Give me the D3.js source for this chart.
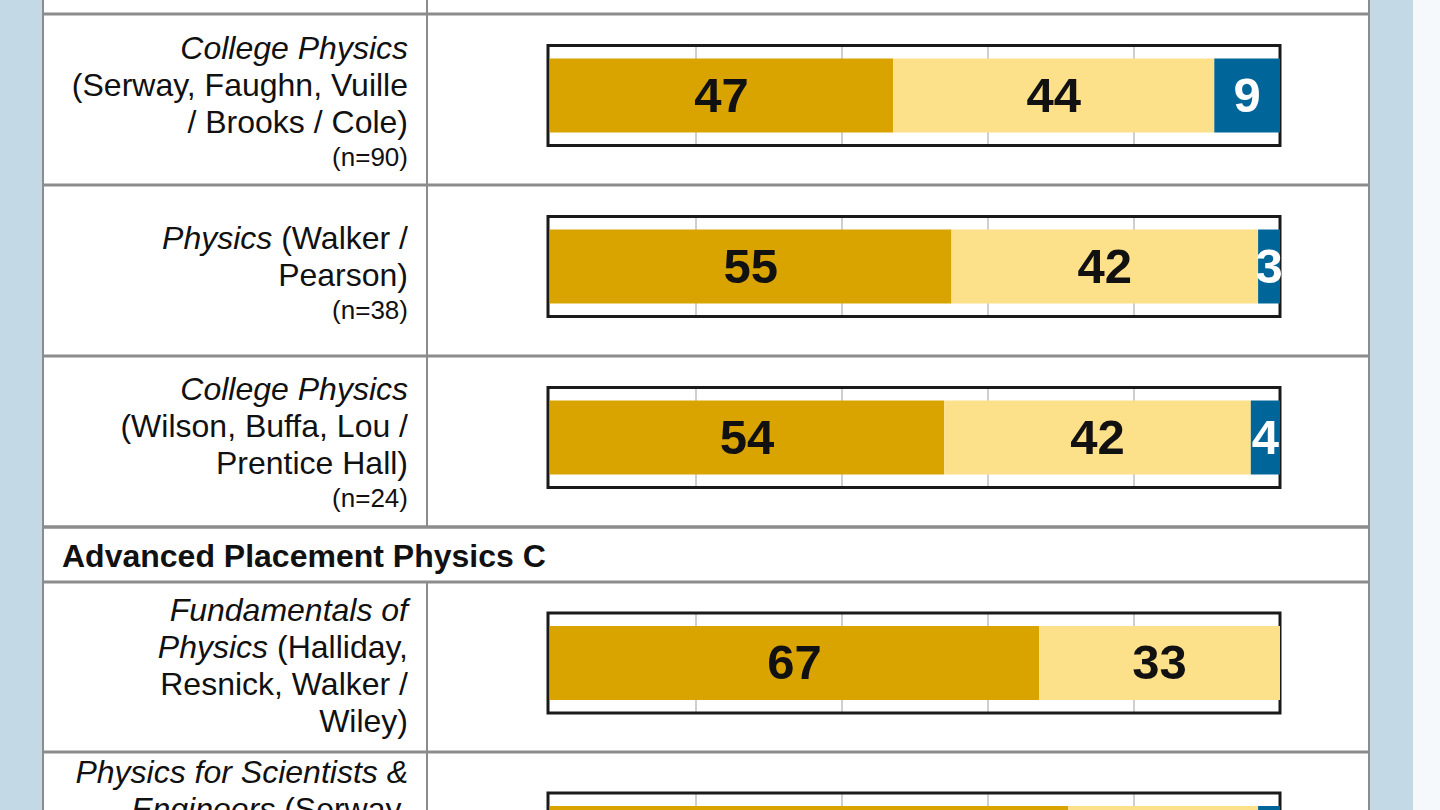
<!DOCTYPE html>
<html lang="en">
<head>
  <meta charset="UTF-8" />
  <title>Textbook ratings</title>
  <style>
    html, body { margin: 0; padding: 0; background: #ffffff; }
    svg { display: block; font-family: "Liberation Sans", Arial, sans-serif; }
  </style>
</head>
<body>
  <script src="https://d3js.org/d3.v7.min.js"></script>
  <script>
    // Data
    const books = ['College Physics (Serway)', 'Physics (Walker)', 'College Physics (Wilson)',
                   'Fundamentals of Physics', 'Physics for Scientists & Engineers'];
    // label lines: each line is a list of [text, italic]
    const bookLines = [
      [[['College Physics', true]], [['(Serway, Faughn, Vuille', false]], [['/ Brooks / Cole)', false]]],
      [[['Physics', true], [' (Walker /', false]], [['Pearson)', false]]],
      [[['College Physics', true]], [['(Wilson, Buffa, Lou /', false]], [['Prentice Hall)', false]]],
      [[['Fundamentals of', true]], [['Physics', true], [' (Halliday,', false]], [['Resnick, Walker /', false]], [['Wiley)', false]]],
      [[['Physics for Scientists &', true]], [['Engineers', true], [' (Serway,', false]]]
    ];
    const sampleSizes = ['(n=90)', '(n=38)', '(n=24)', '', ''];
    const sectionTitle = 'Advanced Placement Physics C';
    const sectionBefore = 3; // header row sits before this book

    const darkShare  = [47, 55, 54, 67, 71];
    const lightShare = [44, 42, 42, 33, 26];
    const blueShare  = [9, 3, 4, 0, 3];
    const ticks = [0, 20, 40, 60, 80, 100];

    // Layout
    const W = 1440, H = 810;
    const tableLeft = 43, tableRight = 1369, divider = 427;
    const rowHeights = [171, 171, 171, 170, 190];
    const headerHeight = 55;
    const labelFirst = [34, 53, 33, 28, 20]; // first line centre below row top
    const lineGap = 37, nGap = 35;
    const frameH = 100, barH = 74;

    const colors = { dark: '#d9a300', light: '#fde08a', blue: '#006699' };

    const svg = d3.select('body').append('svg')
      .attr('width', W)
      .attr('height', H);

    // side panels
    svg.append('rect').attr('x', 0).attr('y', 0).attr('width', tableLeft).attr('height', H).attr('fill', '#c3d9e6');
    svg.append('rect').attr('x', tableRight).attr('y', 0).attr('width', 44).attr('height', H).attr('fill', '#c3d9e6');
    svg.append('rect').attr('x', tableRight + 44).attr('y', 0).attr('width', W - tableRight - 44).attr('height', H).attr('fill', '#f6f9fb');

    // row positions
    const rows = [];
    let y = 14;
    let headerY = 0;
    rowHeights.forEach((h, i) => {
      if (i === sectionBefore) { headerY = y; y += headerHeight; }
      rows.push({ top: y, height: h, i: i });
      y += h;
    });

    const x = d3.scaleLinear().domain([0, 100]).range([550, 1280]);

    // stacked series
    const table = books.map((b, i) => ({ book: b, dark: darkShare[i], light: lightShare[i], blue: blueShare[i] }));
    const stack = d3.stack().keys(['dark', 'light', 'blue']);
    const series = stack(table);

    // table lines
    const lines = svg.append('g').attr('stroke', '#8c8c8c');
    const hLines = [14].concat(rows.map(r => r.top + r.height), [headerY, headerY + headerHeight]);
    lines.selectAll('line.h')
      .data(hLines)
      .enter().append('line')
      .attr('x1', tableLeft).attr('x2', tableRight)
      .attr('y1', d => d).attr('y2', d => d)
      .attr('stroke-width', 3);

    // vertical divider (broken by the section header)
    lines.append('line').attr('x1', divider).attr('x2', divider).attr('y1', 0).attr('y2', headerY).attr('stroke-width', 2);
    lines.append('line').attr('x1', divider).attr('x2', divider).attr('y1', headerY + headerHeight).attr('y2', H).attr('stroke-width', 2);
    lines.append('line').attr('x1', tableLeft).attr('x2', tableLeft).attr('y1', 0).attr('y2', H).attr('stroke-width', 2);
    lines.append('line').attr('x1', tableRight).attr('x2', tableRight).attr('y1', 0).attr('y2', H).attr('stroke-width', 2);

    // section header
    svg.append('text')
      .attr('x', 62)
      .attr('y', headerY + headerHeight / 2 + 1)
      .attr('dominant-baseline', 'central')
      .attr('font-size', '32px')
      .attr('font-weight', 'bold')
      .attr('fill', '#111')
      .text(sectionTitle);

    // book labels
    const labelG = svg.append('g').selectAll('g')
      .data(rows)
      .enter().append('g');

    labelG.each(function(r) {
      const g = d3.select(this);
      const ls = bookLines[r.i];
      ls.forEach((segs, k) => {
        const t = g.append('text')
          .attr('x', 408)
          .attr('y', r.top + labelFirst[r.i] + k * lineGap)
          .attr('text-anchor', 'end')
          .attr('dominant-baseline', 'central')
          .attr('font-size', '32px')
          .attr('fill', '#111');
        segs.forEach(s => {
          t.append('tspan').attr('font-style', s[1] ? 'italic' : 'normal').text(s[0]);
        });
      });
      if (sampleSizes[r.i]) {
        g.append('text')
          .attr('x', 408)
          .attr('y', r.top + labelFirst[r.i] + (ls.length - 1) * lineGap + nGap)
          .attr('text-anchor', 'end')
          .attr('dominant-baseline', 'central')
          .attr('font-size', '26px')
          .attr('fill', '#111')
          .text(sampleSizes[r.i]);
      }
    });

    // bar frames with gridlines
    const mid = r => r.top + r.height / 2 - 4;
    const frames = svg.append('g').selectAll('g')
      .data(rows)
      .enter().append('g')
      .attr('transform', r => `translate(0,${mid(r)})`);

    frames.append('rect')
      .attr('x', x(0) - 2).attr('y', -frameH / 2)
      .attr('width', x(100) - x(0) + 2).attr('height', frameH)
      .attr('fill', '#fff');

    frames.selectAll('line.grid')
      .data(ticks.slice(1, -1))
      .enter().append('line')
      .attr('x1', d => x(d)).attr('x2', d => x(d))
      .attr('y1', -frameH / 2).attr('y2', frameH / 2)
      .attr('stroke', '#cfcfcf')
      .attr('stroke-width', 2);

    // segments
    const segG = svg.append('g').selectAll('g')
      .data(series)
      .enter().append('g')
      .attr('fill', s => colors[s.key]);

    segG.selectAll('rect')
      .data(s => s.map((d, i) => ({ d: d, r: rows[i] })))
      .enter().append('rect')
      .attr('x', o => x(o.d[0]))
      .attr('width', o => x(o.d[1]) - x(o.d[0]))
      .attr('y', o => mid(o.r) - barH / 2)
      .attr('height', barH);

    segG.selectAll('text')
      .data(s => s.map((d, i) => ({ d: d, r: rows[i], key: s.key })).filter(o => o.d[1] - o.d[0] > 0))
      .enter().append('text')
      .attr('x', o => (x(o.d[0]) + x(o.d[1])) / 2)
      .attr('y', o => mid(o.r) - 1)
      .attr('text-anchor', 'middle')
      .attr('dominant-baseline', 'central')
      .attr('font-size', '49px')
      .attr('font-weight', 'bold')
      .attr('fill', o => o.key === 'blue' ? '#fff' : '#111')
      .text(o => o.d[1] - o.d[0]);

    // frame outline on top
    frames.append('rect')
      .attr('x', x(0) - 2).attr('y', -frameH / 2)
      .attr('width', x(100) - x(0) + 2).attr('height', frameH)
      .attr('fill', 'none')
      .attr('stroke', '#1a1a1a')
      .attr('stroke-width', 3);
  </script>
</body>
</html>
